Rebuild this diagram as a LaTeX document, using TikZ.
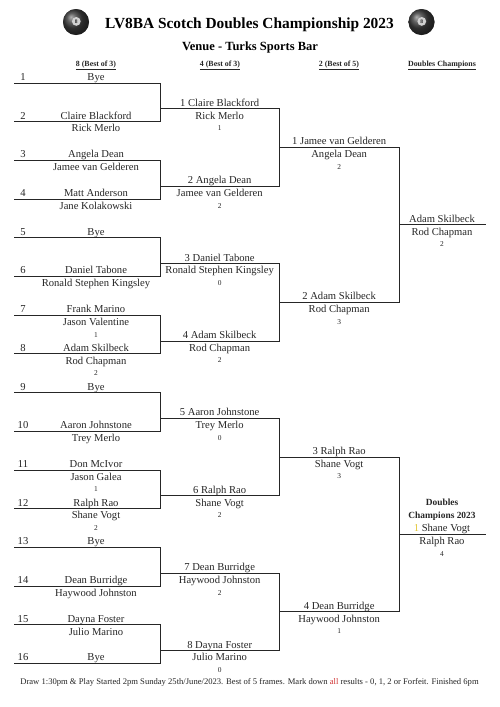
\documentclass[tikz,border=0pt]{standalone}
\usepackage{fontspec}
\setmainfont{Liberation Serif}
\definecolor{ink}{HTML}{262626}
\definecolor{goldnum}{HTML}{E3C83C}
\definecolor{redword}{HTML}{D03030}
\tikzset{
  px/.style={x=1pt,y=-1pt},
  nametext/.style={inner sep=0pt,text=ink,font=\fontsize{10.6}{12}\selectfont,anchor=base},
  seedtext/.style={nametext},
  scoretext/.style={inner sep=0pt,text=ink,font=\fontsize{7.4}{8}\selectfont,anchor=base},
  headtext/.style={inner sep=0pt,text=ink,font=\bfseries\fontsize{7.9}{9}\selectfont,anchor=base},
  champtext/.style={inner sep=0pt,text=ink,font=\bfseries\fontsize{9.4}{11}\selectfont,anchor=base},
  bracket/.style={draw=ink,line width=1pt,line cap=rect},
}
% \entry{id}{xleft}{xright}{y}{top}{bottom}{score}
\newcommand{\entry}[7]{%
  \coordinate (#1l) at (#2,#4);
  \coordinate (#1r) at (#3,#4);
  \draw[bracket] (#1l) -- (#1r);
  \node[nametext] (#1t) at ({(#2+#3)/2},#4-2.6) {#5};
  \node[nametext] (#1b) at ({(#2+#3)/2},#4+10.2) {#6};
  \node[scoretext] (#1s) at ({(#2+#3)/2},#4+21.8) {#7};
}
% first column: seed number and entry, text centred on x=96
\newcommand{\seeded}[6]{%
  \coordinate (#1l) at (14,#3);
  \coordinate (#1r) at (160,#3);
  \draw[bracket] (#1l) -- (#1r);
  \node[seedtext] (#1n) at (23,#3-2.6) {#2};
  \node[nametext] (#1t) at (96,#3-2.6) {#4};
  \node[nametext] (#1b) at (96,#3+10.2) {#5};
  \node[scoretext] (#1s) at (96,#3+21.8) {#6};
}
\newcommand{\eightball}[2]{%
  \fill[black!92] (#1,#2) circle (13);
  \shade[ball color=black!70,opacity=0.75] (#1,#2) circle (13);
  \fill[white!82!black] (#1+0.3,#2-0.6) circle (4.4);
  \node[inner sep=0pt,text=ink,font=\bfseries\fontsize{5.5}{6}\selectfont] at (#1+0.3,#2-0.6) {8};
}
\begin{document}
\begin{tikzpicture}[px]
\path[use as bounding box,fill=white] (0,0) rectangle (499,707);

\eightball{76}{22}
\eightball{421.5}{22}
\node[anchor=base,inner sep=0pt,text=black,font=\bfseries\fontsize{15.4}{18}\selectfont] (title) at (249.5,28.7) {LV8BA Scotch Doubles Championship 2023};
\node[anchor=base,inner sep=0pt,text=black,font=\bfseries\fontsize{12.5}{14}\selectfont] (venue) at (250,50.3) {Venue - Turks Sports Bar};
\node[headtext] (h1) at (96,66) {\underline{8 (Best of 3)}};
\node[headtext] (h2) at (220,66) {\underline{4 (Best of 3)}};
\node[headtext] (h3) at (339,66) {\underline{2 (Best of 5)}};
\node[headtext] (h4) at (442,66) {\underline{Doubles Champions}};

\seeded{a1}{1}{83}{Bye}{}{}
\seeded{a2}{2}{121.7}{Claire Blackford}{Rick Merlo}{}
\seeded{a3}{3}{160.4}{Angela Dean}{Jamee van Gelderen}{}
\seeded{a4}{4}{199.1}{Matt Anderson}{Jane Kolakowski}{}
\seeded{a5}{5}{237.8}{Bye}{}{}
\seeded{a6}{6}{276.5}{Daniel Tabone}{Ronald Stephen Kingsley}{}
\seeded{a7}{7}{315.2}{Frank Marino}{Jason Valentine}{1}
\seeded{a8}{8}{353.9}{Adam Skilbeck}{Rod Chapman}{2}
\seeded{a9}{9}{392.6}{Bye}{}{}
\seeded{a10}{10}{431.3}{Aaron Johnstone}{Trey Merlo}{}
\seeded{a11}{11}{470}{Don McIvor}{Jason Galea}{1}
\seeded{a12}{12}{508.7}{Ralph Rao}{Shane Vogt}{2}
\seeded{a13}{13}{547.4}{Bye}{}{}
\seeded{a14}{14}{586.1}{Dean Burridge}{Haywood Johnston}{}
\seeded{a15}{15}{624.8}{Dayna Foster}{Julio Marino}{}
\seeded{a16}{16}{663.5}{Bye}{}{}

\entry{b1}{160}{279.3}{108.8}{1 Claire Blackford}{Rick Merlo}{1}
\entry{b2}{160}{279.3}{186.2}{2 Angela Dean}{Jamee van Gelderen}{2}
\entry{b3}{160}{279.3}{263.6}{3 Daniel Tabone}{Ronald Stephen Kingsley}{0}
\entry{b4}{160}{279.3}{341}{4 Adam Skilbeck}{Rod Chapman}{2}
\entry{b5}{160}{279.3}{418.4}{5 Aaron Johnstone}{Trey Merlo}{0}
\entry{b6}{160}{279.3}{495.8}{6 Ralph Rao}{Shane Vogt}{2}
\entry{b7}{160}{279.3}{573.2}{7 Dean Burridge}{Haywood Johnston}{2}
\entry{b8}{160}{279.3}{650.6}{8 Dayna Foster}{Julio Marino}{0}

\entry{c1}{279.3}{399}{147.4}{1 Jamee van Gelderen}{Angela Dean}{2}
\entry{c2}{279.3}{399}{302.2}{2 Adam Skilbeck}{Rod Chapman}{3}
\entry{c3}{279.3}{399}{457}{3 Ralph Rao}{Shane Vogt}{3}
\entry{c4}{279.3}{399}{611.8}{4 Dean Burridge}{Haywood Johnston}{1}

\entry{d1}{399}{485}{224.8}{Adam Skilbeck}{Rod Chapman}{2}
\entry{d2}{399}{485}{534.3}{\textcolor{goldnum}{1} Shane Vogt}{Ralph Rao}{4}
\node[champtext] (ch1) at (442,505.3) {Doubles};
\node[champtext] (ch2) at (442,518.3) {Champions 2023};

\foreach \p/\q in {a1/a2,a3/a4,a5/a6,a7/a8,a9/a10,a11/a12,a13/a14,a15/a16,
                   b1/b2,b3/b4,b5/b6,b7/b8,c1/c2,c3/c4}
  \draw[bracket] (\p r) -- (\q r);

\node[anchor=base,inner sep=0pt,text=ink,font=\fontsize{8.6}{10}\selectfont] (foot) at (249.5,684)
  {Draw 1:30pm \& Play Started 2pm Sunday 25th/June/2023. Best of 5 frames. Mark down \textcolor{redword}{all} results - 0, 1, 2 or Forfeit. Finished 6pm};
\end{tikzpicture}
\end{document}
